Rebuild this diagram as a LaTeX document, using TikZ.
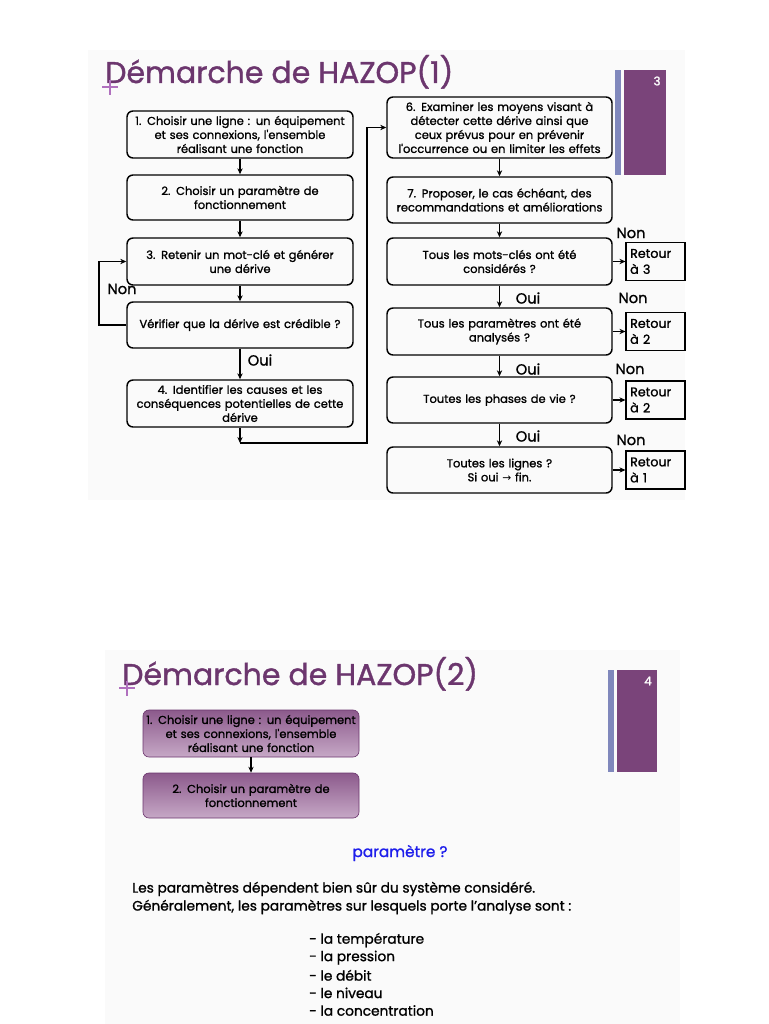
\documentclass[tikz,border=0pt]{standalone}
\usepackage{fontspec}
\setmainfont{Poppins}
\newfontfamily\medfont{Poppins}[FakeBold=1.2]
\newfontfamily\arrowfont{DejaVu Sans}
\usetikzlibrary{arrows.meta, positioning}
\definecolor{hazpurple}{RGB}{108,54,110}
\definecolor{pluspurple}{RGB}{176,112,190}
\definecolor{barpurple}{RGB}{122,68,122}
\definecolor{barblue}{RGB}{128,136,188}
\definecolor{slidegray}{RGB}{250,250,250}
\definecolor{boxtop}{RGB}{140,90,140}
\definecolor{boxbot}{RGB}{198,168,198}
\definecolor{askblue}{RGB}{30,30,235}

\begin{document}
\begin{tikzpicture}[x=0.75pt, y=-0.75pt,
  stepbox/.style={draw, line width=1.1pt, rounded corners=4.5pt, align=center, inner sep=1pt,
    font=\medfont\fontsize{8.6}{10.5}\selectfont},
  lbox/.style={stepbox, minimum width=169.5pt, text width=166pt},
  rbox/.style={stepbox, minimum width=168.75pt, text width=165pt},
  backbox/.style={draw, line width=0.8pt, minimum width=44.25pt, minimum height=28.5pt,
    text width=38pt, align=left, inner sep=2pt, font=\medfont\fontsize{9.5}{12}\selectfont},
  pinkbox/.style={stepbox, line width=0.5pt, draw=hazpurple, top color=boxtop, bottom color=boxbot,
    minimum width=162pt, text width=158pt},
  arr/.style={-{Stealth[length=4.5pt,width=4pt]}, line width=0.9pt},
  yesno/.style={font=\medfont\fontsize{11}{13}\selectfont, inner sep=0pt},
  title/.style={anchor=base west, text=hazpurple, font=\medfont\fontsize{22.5}{26}\selectfont, inner sep=0pt},
  body/.style={anchor=west, inner sep=0pt, font=\medfont\fontsize{10.3}{12}\selectfont}]
  \useasboundingbox (0,0) rectangle (768,1024);

  % slide 3
  \fill[slidegray] (88,50) rectangle (685,500);
  \node[title] (t1) at (105,83) {Démarche de HAZOP(1)};
  \draw[pluspurple, line width=1pt] (102,87) -- (118,87) (110,80) -- (110,95);
  \fill[barblue] (615,70) rectangle (621,175);
  \fill[barpurple] (624,70) rectangle (666,175);
  \node[text=white, font=\medfont\fontsize{9}{10}\selectfont] (n1) at (657,81) {3};

  \node[lbox, minimum height=35.25pt] (b1) at (240,134.5) {1. Choisir une ligne : un équipement\\et ses connexions, l'ensemble\\réalisant une fonction};
  \node[lbox, minimum height=33.75pt] (b2) at (240,197.5) {2. Choisir un paramètre de\\fonctionnement};
  \node[lbox, minimum height=35.25pt] (b3) at (240,261.5) {3. Retenir un mot-clé et générer\\une dérive};
  \node[lbox, minimum height=34.5pt] (b4) at (240,325) {Vérifier que la dérive est crédible ?};
  \node[lbox, minimum height=35.25pt] (b5) at (240,403.5) {4. Identifier les causes et les\\conséquences potentielles de cette\\dérive};

  \node[rbox, minimum height=45.75pt] (b6) at (499.5,127.5) {6. Examiner les moyens visant à\\détecter cette dérive ainsi que\\ceux prévus pour en prévenir\\l'occurrence ou en limiter les effets};
  \node[rbox, minimum height=34.5pt] (b7) at (499.5,200) {7. Proposer, le cas échéant, des\\recommandations et améliorations};
  \node[rbox, minimum height=35.25pt] (b8) at (499.5,261.5) {Tous les mots-clés ont été\\considérés ?};
  \node[rbox, minimum height=35.25pt] (b9) at (499.5,331.5) {Tous les paramètres ont été\\analysés ?};
  \node[rbox, minimum height=34.5pt] (b10) at (499.5,400) {Toutes les phases de vie ?};
  \node[rbox, minimum height=34.5pt] (b11) at (499.5,470) {Toutes les lignes ?\\Si oui {\arrowfont\fontsize{8}{10}\selectfont →} fin.};

  \node[backbox] (r1) at (655.5,261.5) {Retour\\à 3};
  \node[backbox] (r2) at (655.5,331.5) {Retour\\à 2};
  \node[backbox] (r3) at (655.5,400) {Retour\\à 2};
  \node[backbox] (r4) at (655.5,470) {Retour\\à 1};

  \coordinate (loopx) at (99,0);
  \coordinate (jx) at (367,443);

  \draw[arr] (b1) -- (b2);
  \draw[arr] (b2) -- (b3);
  \draw[arr] (b3) -- (b4);
  \draw[arr] (b4) -- (b5);
  \draw[arr] (b4.west) -- (b4.west -| loopx) |- (b3.west);
  \draw[arr] (b5.south) -- (b5.south |- jx);
  \draw[arr] (b5.south |- jx) -- (jx) |- (b6.west);
  \draw[arr] (b6) -- (b7);
  \draw[arr] (b7) -- (b8);
  \draw[arr] (b8) -- (b9);
  \draw[arr] (b9) -- (b10);
  \draw[arr] (b10) -- (b11);
  \draw[arr] (b8) -- (r1);
  \draw[arr] (b9) -- (r2);
  \draw[arr] (b10) -- (r3);
  \draw[arr] (b11) -- (r4);

  \node[yesno] (non0) at (122,289) {Non};
  \node[yesno] (oui0) at (260,360) {Oui};
  \node[yesno] (oui1) at (528,298) {Oui};
  \node[yesno] (oui2) at (528,369) {Oui};
  \node[yesno] (oui3) at (528,436) {Oui};
  \node[yesno] (non1) at (631,233) {Non};
  \node[yesno] (non2) at (633,298) {Non};
  \node[yesno] (non3) at (630,369) {Non};
  \node[yesno] (non4) at (631,440) {Non};

  % slide 4
  \fill[slidegray] (105,650) rectangle (680,1024);
  \node[title] (t2) at (122,685) {Démarche de HAZOP(2)};
  \draw[pluspurple, line width=1pt] (119,688) -- (135,688) (127,681) -- (127,696);
  \fill[barblue] (608,670) rectangle (614,772);
  \fill[barpurple] (617,670) rectangle (657,772);
  \node[text=white, font=\medfont\fontsize{9}{10}\selectfont] (n2) at (648,681) {4};

  \node[pinkbox, minimum height=35.25pt] (p1) at (251,733.5) {1. Choisir une ligne : un équipement\\et ses connexions, l'ensemble\\réalisant une fonction};
  \node[pinkbox, minimum height=33.75pt] (p2) at (251,795.5) {2. Choisir un paramètre de\\fonctionnement};
  \draw[arr] (p1) -- (p2);

  \node[text=askblue, font=\medfont\fontsize{11.5}{13}\selectfont] (ask) at (400,853) {paramètre ?};
  \node[body] (l1) at (132,889) {Les paramètres dépendent bien sûr du système considéré.};
  \node[body] (l2) at (132,907) {Généralement, les paramètres sur lesquels porte l’analyse sont :};
  \foreach \txt [count=\i] in {la température, la pression, le débit, le niveau, la concentration}
    \node[body] (m\i) at (309,922.5+17.6*\i) {- \txt};
\end{tikzpicture}
\end{document}
